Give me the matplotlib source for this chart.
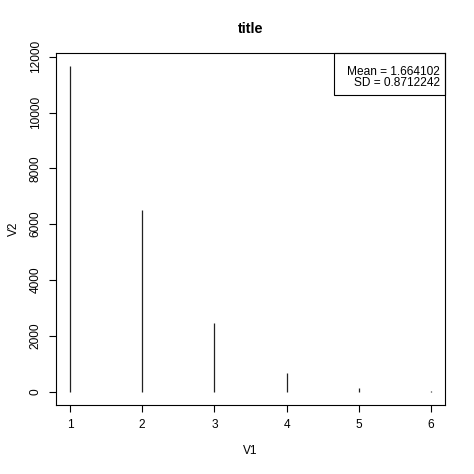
import matplotlib
matplotlib.use('Agg')
import matplotlib.pyplot as plt
from matplotlib.patches import Rectangle

# counts per value
v1 = [1, 2, 3, 4, 5, 6]
v2 = [11650, 6500, 2450, 690, 150, 35]
legend_lines = ['Mean = 1.664102', 'SD = 0.8712242']

plt.rcParams['font.family'] = ['Liberation Sans', 'DejaVu Sans']

fig = plt.figure(figsize=(4.74, 4.74), dpi=100)
ax = fig.add_axes([0.1173, 0.1460, 0.8224, 0.7413])

# type = "h" style lines
ax.vlines(v1, 0, v2, color='#222222', linewidth=0.9)

span_x = max(v1) - min(v1)
ax.set_xlim(min(v1) - 0.04 * span_x, max(v1) + 0.04 * span_x)
span_y = max(v2)
ax.set_ylim(-0.04 * span_y, max(v2) + 0.04 * span_y)

ax.set_xticks(v1)
ax.set_yticks(range(0, 12001, 2000))
ax.tick_params(direction='out', length=5, width=0.8, labelsize=8.6, pad=5)
for lab in ax.get_yticklabels():
    lab.set_rotation(90)
    lab.set_va('center')
for s in ax.spines.values():
    s.set_linewidth(0.8)

ax.set_xlabel('V1', fontsize=8.6, labelpad=10)
ax.set_ylabel('V2', fontsize=8.6, labelpad=7)
ax.set_title('title', fontsize=10.4, fontweight='bold', pad=15)

# legend box, topright with text only
ax.add_patch(Rectangle((0.714, 0.882), 0.286, 0.118, transform=ax.transAxes,
                       fill=False, edgecolor='black', linewidth=0.8, clip_on=False))
ax.text(0.986, 0.948, legend_lines[0], transform=ax.transAxes,
        ha='right', va='center', fontsize=8.6)
ax.text(0.986, 0.917, legend_lines[1], transform=ax.transAxes,
        ha='right', va='center', fontsize=8.6)

fig.savefig('out.png', dpi=100)
